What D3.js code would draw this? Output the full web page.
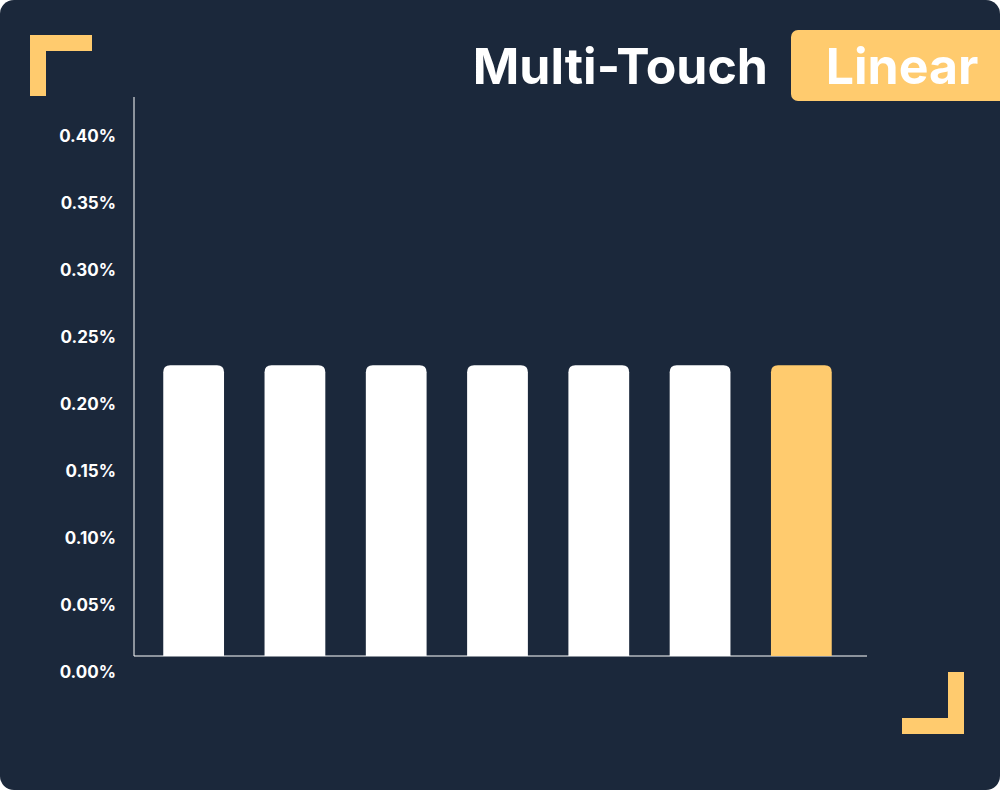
<!DOCTYPE html>
<html>
<head>
<meta charset="utf-8">
<script src="https://cdn.jsdelivr.net/npm/d3@7"></script>
<style>
  html, body { margin: 0; padding: 0; background: #ffffff; }
  svg { display: block; font-family: Inter, "Noto Sans", sans-serif; }
</style>
</head>
<body>
<div id="chart"></div>
<script>
// Chart data
const categories = ["Touch 1", "Touch 2", "Touch 3", "Touch 4", "Touch 5", "Touch 6", "Touch 7"];
const values = [0.217, 0.217, 0.217, 0.217, 0.217, 0.217, 0.217];
const yTicks = [0, 0.05, 0.10, 0.15, 0.20, 0.25, 0.30, 0.35, 0.40];
const highlightIndex = 6;

const W = 1000, H = 790;
const BG = "#1b283b";
const YELLOW = "#ffcb6e";

const svg = d3.select("#chart").append("svg").attr("width", W).attr("height", H);

svg.append("rect").attr("width", W).attr("height", H).attr("rx", 14).attr("fill", BG);

// corner brackets
svg.append("path").attr("fill", YELLOW)
  .attr("d", "M30,35 H92 V51 H46 V96 H30 Z");
svg.append("path").attr("fill", YELLOW)
  .attr("d", "M964,734 H902 V718 H948 V672 H964 Z");

// title
svg.append("text").attr("x", 768).attr("y", 84).attr("text-anchor", "end")
  .attr("fill", "#ffffff").attr("font-size", 50).attr("font-weight", 700)
  .text("Multi-Touch");
svg.append("rect").attr("x", 791).attr("y", 30).attr("width", 230).attr("height", 71)
  .attr("rx", 7).attr("fill", YELLOW);
svg.append("text").attr("x", 902).attr("y", 84).attr("text-anchor", "middle")
  .attr("fill", "#ffffff").attr("font-size", 50).attr("font-weight", 700)
  .text("Linear");

// scales
const x = d3.scaleBand().domain(categories).range([143, 852])
  .paddingInner(0.4).paddingOuter(0.2);
const y = d3.scaleLinear().domain([0, 0.40]).range([656, 120]);

// axes lines
svg.append("line").attr("x1", 134).attr("x2", 134).attr("y1", 97).attr("y2", 656)
  .attr("stroke", "#ffffff").attr("stroke-width", 1);
svg.append("line").attr("x1", 134).attr("x2", 867).attr("y1", 656).attr("y2", 656)
  .attr("stroke", "#ffffff").attr("stroke-width", 1);

// tick labels
svg.append("g").selectAll("text").data(yTicks).enter().append("text")
  .attr("x", 116).attr("y", d => y(d) + 22)
  .attr("text-anchor", "end").attr("fill", "#ffffff")
  .attr("font-size", 17).attr("font-weight", 700)
  .text(d => d.toFixed(2) + "%");

// bars with rounded top
const r = 7;
svg.append("g").selectAll("path").data(values).enter().append("path")
  .attr("fill", (d, i) => i === highlightIndex ? YELLOW : "#ffffff")
  .attr("d", (d, i) => {
    const x0 = x(categories[i]), w = x.bandwidth(), y0 = y(d), y1 = y(0);
    return `M${x0},${y1} V${y0 + r} Q${x0},${y0} ${x0 + r},${y0} H${x0 + w - r} Q${x0 + w},${y0} ${x0 + w},${y0 + r} V${y1} Z`;
  });
</script>
</body>
</html>
